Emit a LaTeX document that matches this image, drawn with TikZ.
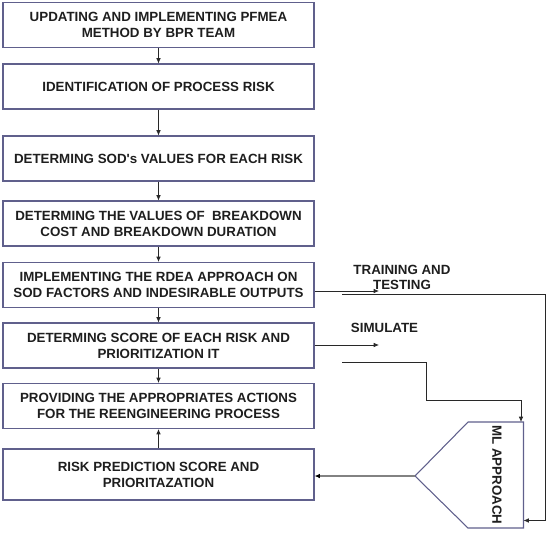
\documentclass[tikz,border=0pt]{standalone}
\usepackage{fontspec}
\setmainfont{Liberation Sans}
\usetikzlibrary{arrows.meta}

\tikzset{
  stepbox/.style={draw={rgb,255:red,96;green,96;blue,140}, line width=0.8pt, minimum width=233.25pt, minimum height=33.75pt, inner sep=0pt, align=center, font=\fontsize{10}{12}\selectfont\bfseries, text={rgb,255:red,30;green,30;blue,30}},
  conn/.style={draw={rgb,255:red,40;green,40;blue,40}, line width=0.6pt, -{Latex[length=4pt,width=3.5pt]}},
  wire/.style={draw={rgb,255:red,70;green,70;blue,70}, line width=0.6pt},
  lbl/.style={align=center, inner sep=0pt, font=\fontsize{10}{11.25}\selectfont\bfseries, text={rgb,255:red,30;green,30;blue,30}}
}

\begin{document}
\begin{tikzpicture}[x=0.75pt,y=0.75pt,yscale=-1,xscale=1]
\useasboundingbox (0,0) rectangle (550,533);

%Shape: Rectangle (steps)
\node[stepbox] (pfmea) at (158.5,25) {UPDATING AND IMPLEMENTING PFMEA\\METHOD BY BPR TEAM};
\node[stepbox] (ident) at (158.5,86.5) {IDENTIFICATION OF PROCESS RISK};
\node[stepbox] (sod) at (158.5,158.5) {DETERMING SOD\textquotesingle s VALUES FOR EACH RISK};
\node[stepbox] (cost) at (158.5,223.5) {DETERMING THE VALUES OF\ \ BREAKDOWN\\COST AND BREAKDOWN DURATION};
\node[stepbox] (rdea) at (158.5,285) {IMPLEMENTING THE RDEA APPROACH ON\\SOD FACTORS AND INDESIRABLE OUTPUTS};
\node[stepbox] (score) at (158.5,345.5) {DETERMING SCORE OF EACH RISK AND\\PRIORITIZATION IT};
\node[stepbox] (actions) at (158.5,406) {PROVIDING THE APPROPRIATES ACTIONS\\FOR THE REENGINEERING PROCESS};
\node[stepbox, minimum height=38.25pt] (predict) at (158.5,474.5) {RISK PREDICTION SCORE AND\\PRIORITAZATION};

%Straight Lines (main flow)
\draw[conn] (pfmea) -- (ident);
\draw[conn] (ident) -- (sod);
\draw[conn] (sod) -- (cost);
\draw[conn] (cost) -- (rdea);
\draw[conn] (rdea) -- (score);
\draw[conn] (score) -- (actions);
\draw[conn] (predict) -- (actions);

% Text Node
\node[lbl] (trainlbl) at (402,277) {TRAINING AND\\TESTING};
\node[lbl] (simlbl) at (384.5,328) {SIMULATE};

%Shape: ML approach
\coordinate (mltip) at (415,476);
\coordinate (mlnw) at (468,422);
\coordinate (mlne) at (523.5,422);
\coordinate (mlse) at (523.5,528);
\coordinate (mlsw) at (468,528);
\draw[draw={rgb,255:red,96;green,96;blue,140}, line width=0.8pt] (mltip) -- (mlnw) -- (mlne) -- (mlse) -- (mlsw) -- cycle;
\node[lbl, rotate=-90] (ml) at (497,475) {ML APPROACH};

%Straight Lines (training and simulate)
\coordinate (trainend) at (379,291);
\coordinate (trainstart) at (342,294);
\coordinate (trainin) at (523.5,520.5);
\draw[conn] (rdea.east |- trainend) -- (trainend);
\draw[conn] (trainstart) -- (545.5,294) -- (545.5,520.5) -- (trainin);

\coordinate (simend) at (379,345);
\coordinate (simstart) at (342,362);
\coordinate (simin) at (521,422);
\draw[conn] (score.east |- simend) -- (simend);
\draw[conn] (simstart) -- (426.5,362) -- (426.5,400.5) -- (521,400.5) -- (simin);

%Straight Lines (prediction)
\draw[draw={rgb,255:red,130;green,130;blue,130}, line width=1.2pt, -{Latex[length=4pt,width=3.5pt,color=black]}] (mltip) -- (predict.east |- mltip);

\end{tikzpicture}
\end{document}
